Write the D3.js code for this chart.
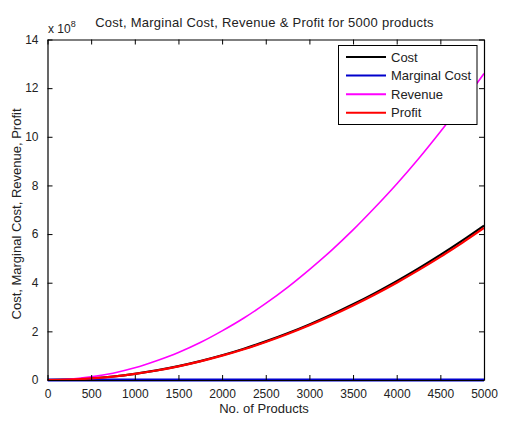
<!DOCTYPE html>
<html><head><meta charset="utf-8">
<script src="https://cdn.jsdelivr.net/npm/d3@7"></script>
<style>
html,body{margin:0;padding:0;background:#fff;}
svg{display:block;font-family:"Liberation Sans",Arial,sans-serif;}
</style></head>
<body><svg id="c" width="522" height="436"></svg>
<script>
// Data (values in units of 1e8)
const products = [0,250,500,750,1000,1250,1500,1750,2000,2250,2500,2750,3000,3250,3500,3750,4000,4250,4500,4750,5000];
const cost = [0,0.016,0.064,0.143,0.254,0.397,0.572,0.778,1.016,1.286,1.588,1.921,2.286,2.683,3.112,3.572,4.064,4.588,5.144,5.731,6.35];
const marginalCost = [0,0.0001,0.0003,0.0004,0.0005,0.0006,0.0008,0.0009,0.001,0.0011,0.0013,0.0014,0.0015,0.0016,0.0018,0.0019,0.002,0.0021,0.0023,0.0024,0.0025];
const revenue = [0,0.03,0.13,0.28,0.50,0.79,1.13,1.54,2.02,2.55,3.15,3.81,4.54,5.32,6.17,7.09,8.06,9.10,10.21,11.37,12.6];
const profit = [0,0.016,0.063,0.141,0.25,0.391,0.563,0.766,1.0,1.266,1.563,1.891,2.25,2.641,3.063,3.516,4.0,4.516,5.063,5.641,6.25];
const xTicks = [0,500,1000,1500,2000,2500,3000,3500,4000,4500,5000];
const yTicks = [0,2,4,6,8,10,12,14];
const seriesNames = ["Cost","Marginal Cost","Revenue","Profit"];
const seriesColors = ["#000000","#0000cc","#ff00ff","#ff0000"];
const seriesWidths = [2.2,3,1.6,2.2];
const title = "Cost, Marginal Cost, Revenue & Profit for 5000 products";
const xLabel = "No. of Products";
const yLabel = "Cost, Marginal Cost, Revenue, Profit";

const svg = d3.select("#c");
const L=47.5, R=484, T=39.5, B=380;
const x = d3.scaleLinear().domain([0,5000]).range([L,R]);
const y = d3.scaleLinear().domain([0,14]).range([B,T]);
const txt="#222";

// lines
const allSeries=[cost,marginalCost,revenue,profit];
const clipId="clp";
svg.append("clipPath").attr("id",clipId).append("rect").attr("x",L).attr("y",T).attr("width",R-L).attr("height",B-T+3);
const line = d3.line().x((d,i)=>x(products[i])).y(d=>y(d)).curve(d3.curveMonotoneX);
allSeries.forEach((s,k)=>{
  svg.append("path").datum(s).attr("d",line).attr("fill","none")
    .attr("stroke",seriesColors[k]).attr("stroke-width",seriesWidths[k]).attr("clip-path",`url(#${clipId})`);
});

// axes (ticks inward on all sides)
const tl=5;
const fmt=d3.format("d");
const gb=svg.append("g").attr("transform",`translate(0,${B})`).call(d3.axisBottom(x).tickValues(xTicks).tickFormat(fmt).tickSizeInner(-tl).tickSizeOuter(0).tickPadding(9));
const gt=svg.append("g").attr("transform",`translate(0,${T})`).call(d3.axisTop(x).tickValues(xTicks).tickSizeInner(-tl).tickSizeOuter(0).tickFormat(""));
const gl=svg.append("g").attr("transform",`translate(${L},0)`).call(d3.axisLeft(y).tickValues(yTicks).tickFormat(fmt).tickSizeInner(-tl).tickSizeOuter(0).tickPadding(9));
const gr=svg.append("g").attr("transform",`translate(${R},0)`).call(d3.axisRight(y).tickValues(yTicks).tickSizeInner(-tl).tickSizeOuter(0).tickFormat(""));
[gb,gt,gl,gr].forEach(g=>{
  g.select(".domain").attr("stroke","#000").attr("stroke-width",1.2);
  g.selectAll(".tick line").attr("stroke","#000");
  g.selectAll("text").attr("fill",txt).style("font-size","12px").style("font-family","'Liberation Sans',Arial,sans-serif");
});

// title and labels
svg.append("text").attr("x",264.5).attr("y",27).attr("text-anchor","middle").attr("fill",txt).style("font-size","13px").style("letter-spacing","0.26px").text(title);
const ex=svg.append("text").attr("x",48).attr("y",33).attr("fill",txt).style("font-size","12px");
ex.append("tspan").text("x 10");
ex.append("tspan").attr("dy",-6).style("font-size","9px").text("8");
svg.append("text").attr("x",264).attr("y",413).attr("text-anchor","middle").attr("fill",txt).style("font-size","13px").text(xLabel);
svg.append("text").attr("transform",`translate(21,214) rotate(-90)`).attr("text-anchor","middle").attr("fill",txt).style("font-size","13px").text(yLabel);

// legend
const lg=svg.append("g");
lg.append("rect").attr("x",338.5).attr("y",45.5).attr("width",138.5).attr("height",79).attr("fill","#fff").attr("stroke","#000").attr("stroke-width",1);
seriesNames.forEach((n,i)=>{
  const yy=57+i*18.6;
  lg.append("line").attr("x1",346).attr("x2",386).attr("y1",yy).attr("y2",yy).attr("stroke",seriesColors[i]).attr("stroke-width",2);
  lg.append("text").attr("x",391).attr("y",yy+4.5).attr("fill",txt).style("font-size","13px").text(n);
});
</script></body></html>
